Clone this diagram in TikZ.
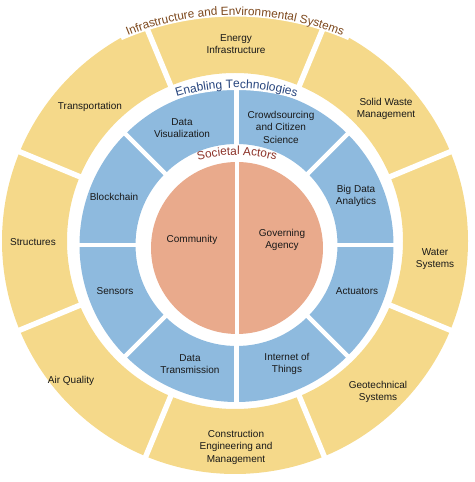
\documentclass[tikz,border=0pt]{standalone}
\usepackage{fontspec}
\setmainfont{Liberation Sans}
\usetikzlibrary{decorations.text}
\definecolor{ringyellow}{RGB}{245,217,138}
\definecolor{ringblue}{RGB}{142,186,222}
\definecolor{coreorange}{RGB}{233,170,140}
\definecolor{titlebrown}{RGB}{125,72,28}
\definecolor{titleblue}{RGB}{38,68,125}
\definecolor{titlered}{RGB}{140,50,40}
\definecolor{labeltext}{RGB}{25,25,25}
\begin{document}
\begin{tikzpicture}[x=1pt,y=1pt,
  lbl/.style={align=center, font=\fontsize{10}{12.5}\selectfont, text=labeltext, inner sep=0pt},
  ydiv/.style={white, line width=5.5},
  bdiv/.style={white, line width=4.5},
  halo/.style={white, line width=#1}]
\useasboundingbox (0,0) rectangle (474,482);
\coordinate (yc) at (235,241);
\coordinate (bc) at (236.5,237);
\coordinate (oc) at (237,234);
\coordinate (ta) at (235,182);
\coordinate (ea) at (236.5,190);
\coordinate (sa) at (237,186);

% outer ring
\fill[ringyellow, even odd rule] (yc) circle[radius=233] (yc) circle[radius=168];
\foreach \a in {22.5,67.5,...,337.5}
  \draw[ydiv] ([shift={(\a:164)}]yc) -- ([shift={(\a:237)}]yc);
% middle ring
\fill[ringblue, even odd rule] (bc) circle[radius=157] (bc) circle[radius=101];
\foreach \a in {0,45,...,315}
  \draw[bdiv] ([shift={(\a:98)}]bc) -- ([shift={(\a:160)}]bc);
% core
\fill[coreorange] (oc) circle[radius=86];
\draw[white, line width=4] ([shift={(90:88)}]oc) -- ([shift={(270:88)}]oc);

% title halos
\draw[halo=15] ([shift={(113.5:291)}]ta) arc[start angle=113.5, end angle=66.5, radius=291];
\draw[halo=6] ([shift={(107:205)}]ea) arc[start angle=107, end angle=73, radius=205];

% ring titles
\path[decorate, decoration={text along path, text align=center,
  text={|\fontsize{11.8}{12}\selectfont\color{titlebrown}|Infrastructure and Environmental Systems}}]
  ([shift={(118:285)}]ta) arc[start angle=118, end angle=62, radius=285];
\path[decorate, decoration={text along path, text align=center,
  text={|\fontsize{12}{12}\selectfont\color{titleblue}|Enabling Technologies}}]
  ([shift={(115:204)}]ea) arc[start angle=115, end angle=65, radius=204];
\path[decorate, decoration={text along path, text align=center,
  text={|\fontsize{11.8}{12}\selectfont\color{titlered}|Societal Actors}}]
  ([shift={(125:141)}]sa) arc[start angle=125, end angle=55, radius=141];

% outer ring labels
\node[lbl] (energy) at (236,438) {Energy\\Infrastructure};
\node[lbl] (solidwaste) at (386,373) {Solid Waste\\Management};
\node[lbl] (water) at (435,223) {Water\\Systems};
\node[lbl] (geotech) at (378,90) {Geotechnical\\Systems};
\node[lbl] (construction) at (236,35) {Construction\\Engineering and\\Management};
\node[lbl] (airquality) at (71,101) {Air Quality};
\node[lbl] (structures) at (33,240) {Structures};
\node[lbl] (transport) at (90,375) {Transportation};
% middle ring labels
\node[lbl] (dataviz) at (182,354) {Data\\Visualization};
\node[lbl] (crowd) at (281,355) {Crowdsourcing\\and Citizen\\Science};
\node[lbl] (bigdata) at (356,286) {Big Data\\Analytics};
\node[lbl] (actuators) at (357,191) {Actuators};
\node[lbl] (iot) at (287,118) {Internet of\\Things};
\node[lbl] (datatrans) at (190,118) {Data\\Transmission};
\node[lbl] (sensors) at (115,191) {Sensors};
\node[lbl] (blockchain) at (114,285) {Blockchain};
% core labels
\node[lbl] (community) at (192,242) {Community};
\node[lbl] (governing) at (282,242) {Governing\\Agency};
\end{tikzpicture}
\end{document}
